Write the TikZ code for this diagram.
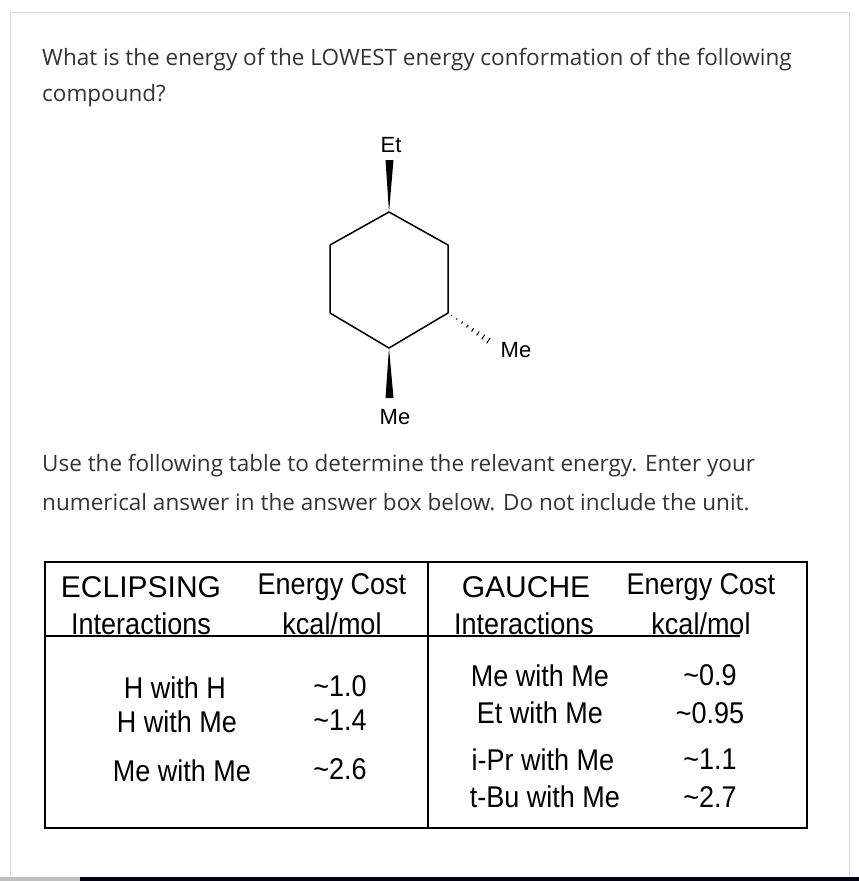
\documentclass[tikz,border=0pt]{standalone}
\usepackage{fontspec}
\usetikzlibrary{calc}
\setmainfont{Liberation Sans}
\newfontfamily\qfont{Open Sans}
\begin{document}
\begin{tikzpicture}[x=1pt,y=-1pt,
  q/.style={anchor=west,inner sep=0,text=black!80,font=\qfont\fontsize{22.5}{26}\selectfont},
  lab/.style={inner sep=0,font=\fontsize{22}{26}\selectfont},
  tt/.style={inner sep=0,font=\fontsize{30}{34}\selectfont},
  bond/.style={line width=1.5pt,line cap=round,line join=round}]
\useasboundingbox (0,0) rectangle (859,881);
\fill[white] (0,0) rectangle (859,881);
\draw[black!15,line width=1pt] (10,12) -- (849,12);
\draw[black!15,line width=1pt] (10,12) -- (10,876);
\draw[black!15,line width=1pt] (849,12) -- (849,876);
\fill[black!25] (0,877) rectangle (80,881);
\fill[black!75!blue!30!black] (80,877) rectangle (859,881);
\node[q] (q1) at (42,60) {What is the energy of the LOWEST energy conformation of the following};
\node[q] (q2) at (42,96) {compound?};
\node[q] (q3) at (42,466) {Use the following table to determine the relevant energy. Enter your};
\node[q] (q4) at (42,502) {numerical answer in the answer box below. Do not include the unit.};
% molecule
\coordinate (c1) at (389,212); \coordinate (c2) at (448,245);
\coordinate (c3) at (448,313); \coordinate (c4) at (389,348);
\coordinate (c5) at (330,313); \coordinate (c6) at (330,245);
\coordinate (hend) at (492,343);
\draw[bond] (c1)--(c2)--(c3)--(c4)--(c5)--(c6)--cycle;
\fill (c1) -- (385.5,160) -- (393.5,160) -- cycle;
\fill (c4) -- (385.5,398) -- (393.5,398) -- cycle;
\node[lab] (et) at (391,145) {Et};
\node[lab] (me1) at (395,417) {Me};
\node[lab] (me2) at (516,350) {Me};
\foreach \t in {0.08,0.2,...,1.0}{
  \draw[line width=1pt] ($(c3)!\t!(hend)+(\t*3.5*0.56,-\t*3.5*0.83)$) -- ($(c3)!\t!(hend)-(\t*3.5*0.56,-\t*3.5*0.83)$);
}
% table
\draw[line width=2.5pt] (45,562) rectangle (807,828);
\draw[line width=2.5pt] (428,562) -- (428,828);
\draw[line width=2pt] (46,636) -- (740,636);
\begin{scope}[every node/.style={tt}]
\node (h1) at (141,587) {ECLIPSING};
\node (h2) at (332,587) {\scalebox{0.9}[1]{Energy Cost}};
\node (h3) at (141,624) {\scalebox{0.9}[1]{Interactions}};
\node (h4) at (332,624) {\scalebox{0.9}[1]{kcal/mol}};
\node (h5) at (526,587) {GAUCHE};
\node (h6) at (701,587) {\scalebox{0.9}[1]{Energy Cost}};
\node (h7) at (524,624) {\scalebox{0.9}[1]{Interactions}};
\node (h8) at (701,624) {\scalebox{0.9}[1]{kcal/mol}};
\node (l1) at (175,688) {\scalebox{0.9}[1]{H with H}};
\node (l2) at (177,722) {\scalebox{0.9}[1]{H with Me}};
\node (l3) at (182,771) {\scalebox{0.9}[1]{Me with Me}};
\node (v1) at (340,686) {\scalebox{0.9}[1]{\char`\~1.0}};
\node (v2) at (340,720) {\scalebox{0.9}[1]{\char`\~1.4}};
\node (v3) at (340,769) {\scalebox{0.9}[1]{\char`\~2.6}};
\node (r1) at (540,676) {\scalebox{0.9}[1]{Me with Me}};
\node (r2) at (540,713) {\scalebox{0.9}[1]{Et with Me}};
\node (r3) at (543,760) {\scalebox{0.9}[1]{i-Pr with Me}};
\node (r4) at (545,797) {\scalebox{0.9}[1]{t-Bu with Me}};
\node (w1) at (710,675) {\scalebox{0.9}[1]{\char`\~0.9}};
\node (w2) at (710,713) {\scalebox{0.9}[1]{\char`\~0.95}};
\node (w3) at (710,759) {\scalebox{0.9}[1]{\char`\~1.1}};
\node (w4) at (710,797) {\scalebox{0.9}[1]{\char`\~2.7}};
\end{scope}
\end{tikzpicture}
\end{document}
